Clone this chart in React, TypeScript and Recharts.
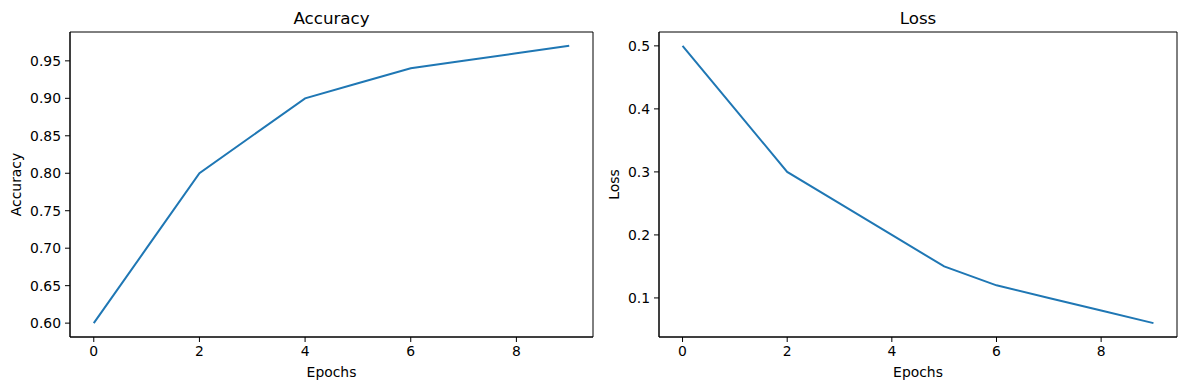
import { LineChart, Line, XAxis, YAxis, ReferenceArea } from 'recharts';

const epochs = [0, 1, 2, 3, 4, 5, 6, 7, 8, 9];
const accuracy = [0.6, 0.7, 0.8, 0.85, 0.9, 0.92, 0.94, 0.95, 0.96, 0.97];
const loss = [0.5, 0.4, 0.3, 0.25, 0.2, 0.15, 0.12, 0.1, 0.08, 0.06];

const xTicks = [0, 2, 4, 6, 8];
const accTicks = [0.6, 0.65, 0.7, 0.75, 0.8, 0.85, 0.9, 0.95];
const lossTicks = [0.1, 0.2, 0.3, 0.4, 0.5];

const FONT = '"DejaVu Sans", sans-serif';
const BLUE = '#1f77b4';
const X_DOMAIN: [number, number] = [-0.45, 9.45];

const tickStyle = { fill: '#000', fontSize: 13.9, fontFamily: FONT };

const yLabel = (text: string, x: number) => (props: any) => {
  const vb = props.viewBox;
  const cy = vb.y + vb.height / 2;
  return (
    <text x={x} y={cy} transform={`rotate(-90, ${x}, ${cy})`} textAnchor="middle"
      dominantBaseline="central" fontSize={13.9} fontFamily={FONT} fill="#000">{text}</text>
  );
};

const xLabel = (props: any) => {
  const vb = props.viewBox;
  return (
    <text x={vb.x + vb.width / 2} y={372} textAnchor="middle" dominantBaseline="central"
      fontSize={13.9} fontFamily={FONT} fill="#000">Epochs</text>
  );
};

const Panel = ({ title, data, yDomain, yTicks, digits, width, yWidth, marginRight, labelX }) => (
  <LineChart width={width} height={390} data={data}
    margin={{ top: 32, right: marginRight, bottom: 0, left: 0 }}>
    <XAxis dataKey="epoch" type="number" domain={X_DOMAIN} ticks={xTicks} allowDataOverflow
      height={53} tickSize={5} tickMargin={4} tick={tickStyle}
      axisLine={{ stroke: '#000' }} tickLine={{ stroke: '#000' }} label={xLabel} />
    <YAxis type="number" domain={yDomain} ticks={yTicks} allowDataOverflow width={yWidth}
      tickSize={5} tickMargin={4} tick={tickStyle} tickFormatter={(v) => v.toFixed(digits)}
      axisLine={{ stroke: '#000' }} tickLine={{ stroke: '#000' }} label={yLabel(title, labelX)} />
    <ReferenceArea x1={X_DOMAIN[0]} x2={X_DOMAIN[1]} y1={yDomain[0]} y2={yDomain[1]}
      fill="none" stroke="#000" strokeWidth={1} />
    <Line type="linear" dataKey="value" stroke={BLUE} strokeWidth={2} dot={false}
      isAnimationActive={false} />
    <text x={0} y={0} />
  </LineChart>
);

const accData = epochs.map((e, i) => ({ epoch: e, value: accuracy[i] }));
const lossData = epochs.map((e, i) => ({ epoch: e, value: loss[i] }));

const titleStyle = (left: number, w: number): any => ({
  position: 'absolute', top: 8, left, width: w, textAlign: 'center',
  fontFamily: FONT, fontSize: 16.7, lineHeight: '20px', color: '#000',
});

export default function App() {
  return (
    <div style={{ position: 'absolute', top: 0, left: 0, width: 1189, height: 390, background: '#fff' }}>
      <div style={{ position: 'absolute', left: 0, top: 0 }}>
        <Panel title="Accuracy" data={accData} yDomain={[0.5815, 0.9885]} yTicks={accTicks} digits={2}
          width={600} yWidth={70} marginRight={7} labelX={16} />
      </div>
      <div style={{ position: 'absolute', left: 600, top: 0 }}>
        <Panel title="Loss" data={lossData} yDomain={[0.038, 0.522]} yTicks={lossTicks} digits={1}
          width={589} yWidth={59} marginRight={12} labelX={14} />
      </div>
      <div style={titleStyle(70, 523)}>Accuracy</div>
      <div style={titleStyle(659, 518)}>Loss</div>
    </div>
  );
}
